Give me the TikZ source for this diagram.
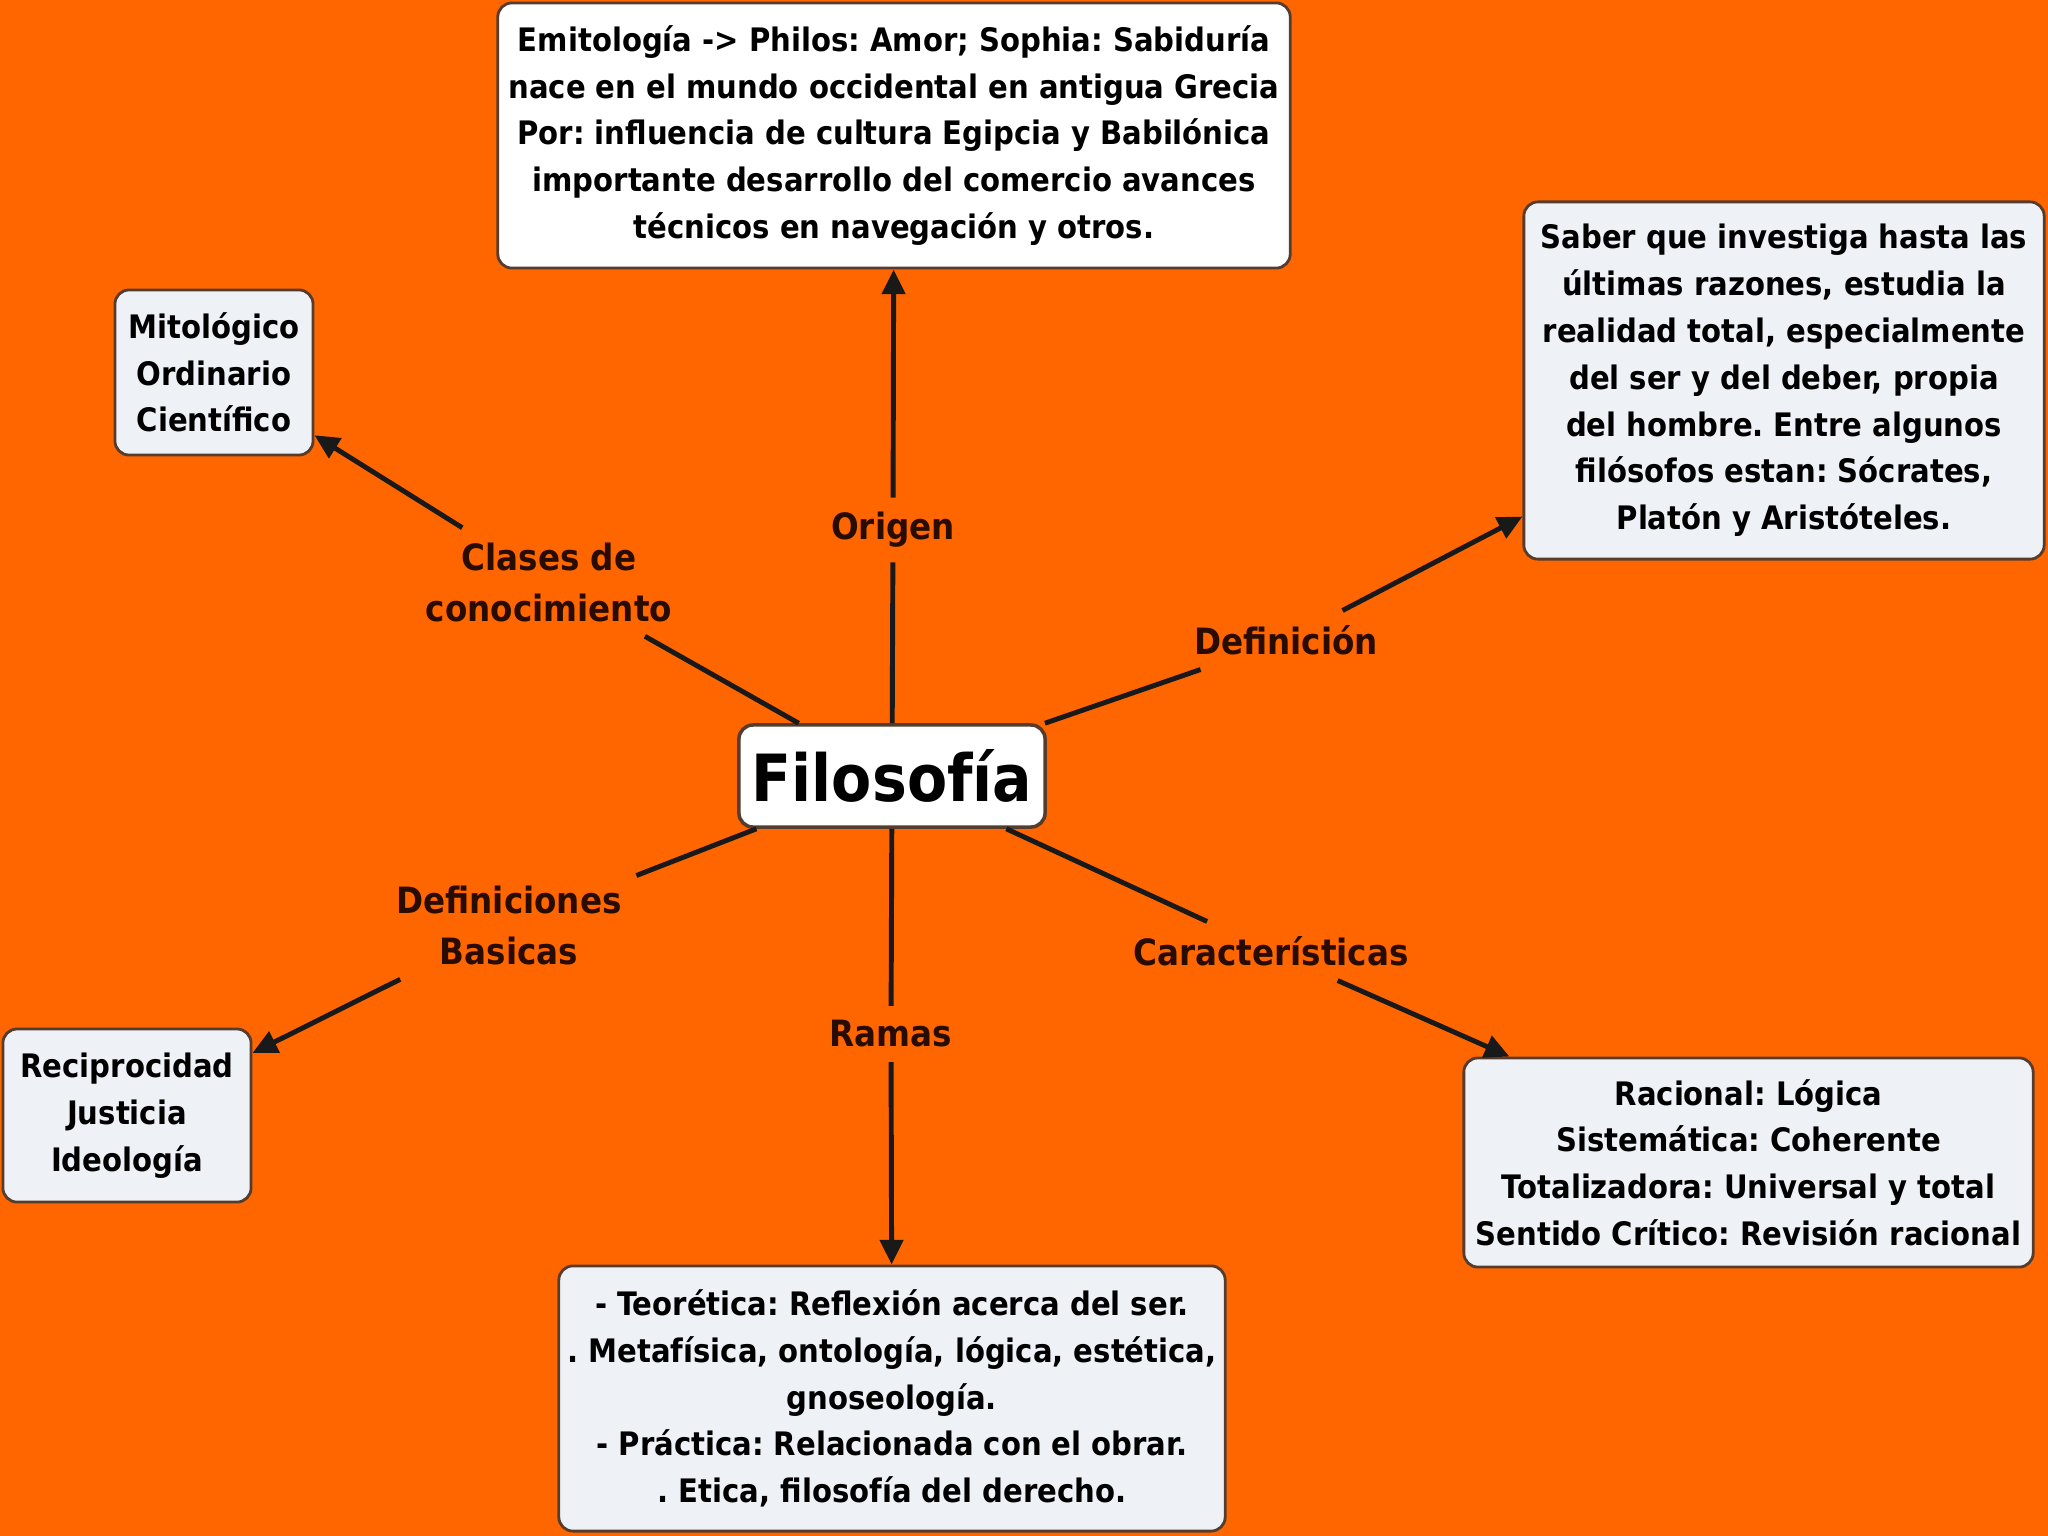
\documentclass[tikz,border=0pt]{standalone}
\usepackage{fontspec}
\setmainfont{DejaVu Sans Condensed}
\frenchspacing
\usetikzlibrary{arrows.meta}
\definecolor{fondo}{RGB}{255,102,0}
\definecolor{borde}{RGB}{85,60,45}
\definecolor{relleno}{RGB}{238,242,246}
\definecolor{etiq}{RGB}{40,12,0}
\tikzset{
  caja/.style={draw=borde,line width=0.8pt,rounded corners=4pt,fill=relleno,
    align=center,inner sep=0pt,font=\bfseries\fontsize{9.2}{13.3}\selectfont},
  enlace/.style={line width=1.4pt,draw=black!90},
}

\begin{document}
\begin{tikzpicture}[x=0.01cm,y=-0.01cm,
   lab/.style={text=etiq,align=center,inner sep=4pt,font=\bfseries\fontsize{10.3}{14.5}\selectfont},
   flecha/.style={enlace,-{Triangle[length=7pt,width=6.5pt]}}]
  \fill[fondo] (0,0) rectangle (2048,1536);
  \node[caja,fill=white,line width=1pt,minimum width=30.6mm,minimum height=10.2mm,
    font=\bfseries\fontsize{18.5}{22}\selectfont] (filo) at (892,776) {Filosofía};
  \node[caja,fill=white,minimum width=79.2mm,minimum height=26.5mm] (orig) at (894,135.5)
    {Emitología -> Philos: Amor; Sophia: Sabiduría\\
     nace en el mundo occidental en antigua Grecia\\
     Por: influencia de cultura Egipcia y Babilónica\\
     importante desarrollo del comercio avances\\
     técnicos en navegación y otros.};
  \node[caja,minimum width=19.8mm,minimum height=16.5mm] (clas) at (214,372.5)
    {Mitológico\\Ordinario\\Científico};
  \node[caja,minimum width=52mm,minimum height=35.7mm] (defi) at (1784,380.5)
    {Saber que investiga hasta las\\
     últimas razones, estudia la\\
     realidad total, especialmente\\
     del ser y del deber, propia\\
     del hombre. Entre algunos\\
     filósofos estan: Sócrates,\\
     Platón y Aristóteles.};
  \node[caja,minimum width=24.8mm,minimum height=17.3mm] (basi) at (127,1115.5)
    {Reciprocidad\\Justicia\\Ideología};
  \node[caja,minimum width=66.6mm,minimum height=26.5mm] (rama) at (892,1398.5)
    {- Teorética: Reflexión acerca del ser.\\
     . Metafísica, ontología, lógica, estética,\\
     gnoseología.\\
     - Práctica: Relacionada con el obrar.\\
     . Etica, filosofía del derecho.};
  \node[caja,minimum width=56.9mm,minimum height=20.9mm] (cara) at (1748.5,1162.5)
    {Racional: Lógica\\
     Sistemática: Coherente\\
     Totalizadora: Universal y total\\
     Sentido Crítico: Revisión racional};
  \node[lab] (lorig) at (893,530) {Origen};
  \node[lab] (lclas) at (549,582) {Clases de\\conocimiento};
  \node[lab] (ldefi) at (1286,640) {Definición};
  \node[lab] (lbasi) at (509,925) {Definiciones\\Basicas};
  \node[lab] (lrama) at (891,1034) {Ramas};
  \node[lab] (lcara) at (1271,951) {Características};
  \draw[enlace] (filo) -- (lorig);
  \draw[flecha] (lorig) -- (orig);
  \draw[enlace] (filo) -- (lclas);
  \draw[flecha] (lclas) -- (clas);
  \draw[enlace] (filo) -- (ldefi);
  \draw[flecha] (ldefi) -- (defi);
  \draw[enlace] (filo) -- (lbasi);
  \draw[flecha] (lbasi) -- (basi);
  \draw[enlace] (filo) -- (lrama);
  \draw[flecha] (lrama) -- (rama);
  \draw[enlace] (filo) -- (lcara);
  \draw[flecha] (lcara) -- (cara);
\end{tikzpicture}
\end{document}
